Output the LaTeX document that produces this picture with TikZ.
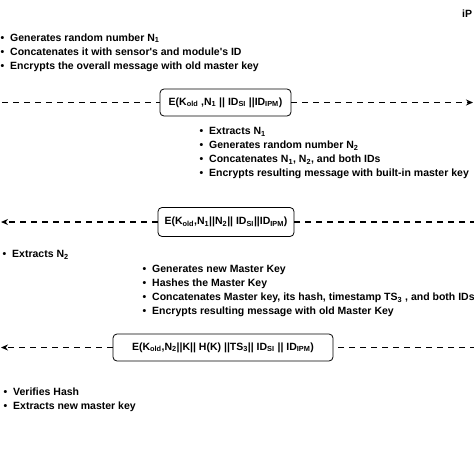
\documentclass[tikz,border=0pt]{standalone}
\usepackage{fontspec}
\setmainfont{Liberation Sans}
\usetikzlibrary{arrows.meta}
\newcommand{\sbs}[1]{\textsubscript{#1}}
\newcommand{\bul}{\llap{\textbullet\hspace{6pt}}}

\begin{document}
\begin{tikzpicture}[
        x=1pt, y=-1pt,
        every node/.style={color=black, font=\fontsize{10.5}{12}\selectfont\bfseries, inner sep=0pt},
        bline/.style={anchor=base west},
        msg/.style={draw, rounded corners=4pt, line width=0.8pt, minimum height=27pt},
        flow/.style={line width=1.2pt, dash pattern=on 6pt off 5pt},
        head/.style={-{Stealth[length=7pt,width=6pt]}},
    ]
    \useasboundingbox (0,0) rectangle (474,474);
    \clip (0,0) rectangle (474,474);
    % entity
    \node[bline] (ipm) at (462,17) {iP};
    % first message
    \node[bline] (a1) at (10,41) {\bul Generates random number N\sbs{1}};
    \node[bline] (a2) at (10,55.3) {\bul Concatenates it with sensor\textquotesingle s and module\textquotesingle s ID};
    \node[bline] (a3) at (10,69.6) {\bul Encrypts the overall message with old master key};
    \node[msg,minimum width=131pt] (m1) at (225.5,102.5) {E(K\sbs{old} ,N\sbs{1} || ID\sbs{SI} ||ID\sbs{IPM})};
    \coordinate (m1l) at (2,102.5);
    \coordinate (m1r) at (473,102.5);
    \draw[flow] (m1l) -- (m1);
    \draw[flow,head] (m1) -- (m1r);
    % second message
    \node[bline] (b1) at (209,134.5) {\bul Extracts N\sbs{1}};
    \node[bline] (b2) at (209,148.5) {\bul Generates random number N\sbs{2}};
    \node[bline] (b3) at (209,162.5) {\bul Concatenates N\sbs{1}, N\sbs{2}, and both IDs};
    \node[bline] (b4) at (209,176.5) {\bul Encrypts resulting message with built-in master key};
    \node[msg,minimum width=136pt,minimum height=29pt] (m2) at (226,222) {E(K\sbs{old},N\sbs{1}||N\sbs{2}|| ID\sbs{SI}||ID\sbs{IPM})};
    \coordinate (m2l) at (1,222);
    \coordinate (m2r) at (476,222);
    \draw[flow] (m2r) -- (m2);
    \draw[flow,head] (m2) -- (m2l);
    % third message
    \node[bline] (c0) at (12,257.5) {\bul Extracts N\sbs{2}};
    \node[bline] (c1) at (152,272.5) {\bul Generates new Master Key};
    \node[bline] (c2) at (152,286.5) {\bul Hashes the Master Key};
    \node[bline] (c3) at (152,300.5) {\bul Concatenates Master key, its hash, timestamp TS\sbs{3} , and both IDs};
    \node[bline] (c4) at (152,314.5) {\bul Encrypts resulting message with old Master Key};
    \node[msg,minimum width=220pt] (m3) at (223,347.5) {E(K\sbs{old},N\sbs{2}||K|| H(K) ||TS\sbs{3}|| ID\sbs{SI} || ID\sbs{IPM})};
    \coordinate (m3l) at (1,347.5);
    \coordinate (m3r) at (476,347.5);
    \draw[flow] (m3r) -- (m3);
    \draw[flow,head] (m3) -- (m3l);
    % final step
    \node[bline] (d1) at (13,395.5) {\bul Verifies Hash};
    \node[bline] (d2) at (13,409.5) {\bul Extracts new master key};
\end{tikzpicture}
\end{document}
